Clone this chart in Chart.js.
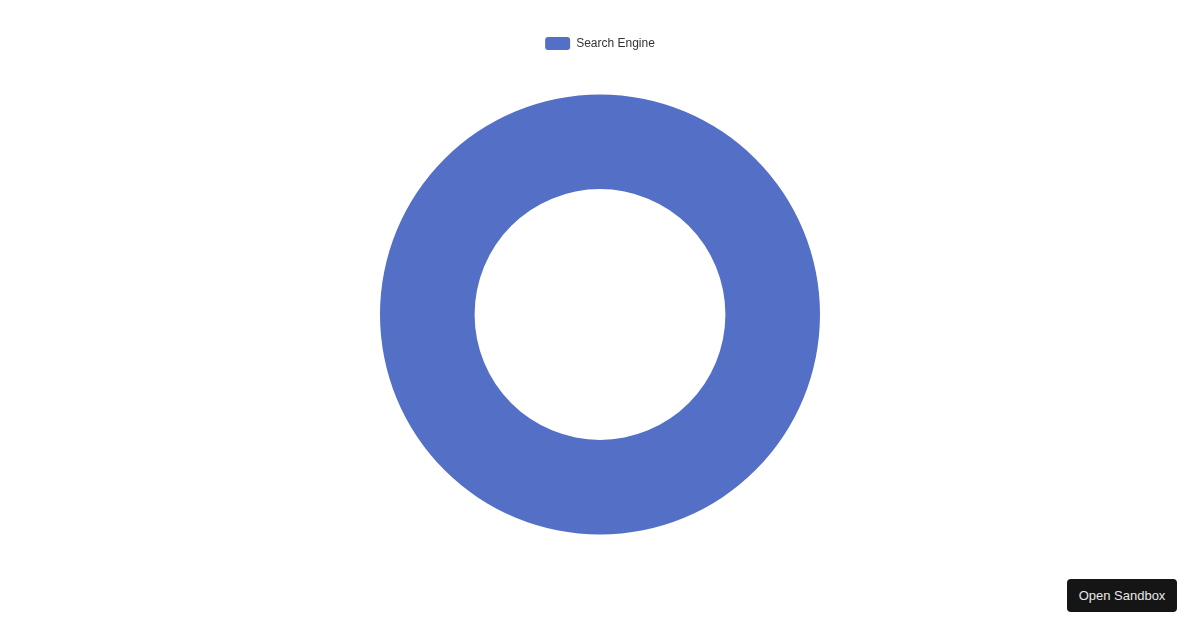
<!DOCTYPE html>
<html>
<head>
<meta charset="utf-8">
<script src="https://cdn.jsdelivr.net/npm/chart.js@4/dist/chart.umd.min.js"></script>
<style>
  html, body { margin: 0; padding: 0; background: #fff; width: 1200px; height: 630px; overflow: hidden; }
  #wrap { position: absolute; left: 0; top: 0; width: 1200px; height: 630px; }
  #sandbox {
    position: absolute; right: 23px; bottom: 18px; width: 110px; height: 33px;
    background: #151515; color: #e8e8e8; border-radius: 4px;
    font-family: "Liberation Sans", Arial, sans-serif; font-size: 13px;
    display: flex; align-items: center; justify-content: center; box-sizing: border-box;
  }
</style>
</head>
<body>
<div id="wrap"><canvas id="c"></canvas></div>
<div id="sandbox">Open Sandbox</div>
<script>
const categories = ["Search Engine"];
const values = [1048];
const colors = ["#5470c6"];

const legendSpacer = {
  id: 'legendSpacer',
  beforeInit(chart) {
    const origFit = chart.legend.fit;
    chart.legend.fit = function () {
      origFit.bind(chart.legend)();
      this.height += 34.5;
    };
  }
};

new Chart(document.getElementById('c'), {
  type: 'doughnut',
  data: {
    labels: categories,
    datasets: [{
      data: values,
      backgroundColor: colors,
      borderWidth: 0,
      hoverOffset: 0
    }]
  },
  options: {
    responsive: true,
    maintainAspectRatio: false,
    animation: false,
    cutout: '57%',
    layout: { padding: { top: 27, bottom: 95.5 } },
    plugins: {
      legend: {
        position: 'top',
        labels: {
          boxWidth: 25,
          boxHeight: 13,
          padding: 10,
          color: '#333',
          font: { family: "'Liberation Sans', Arial, sans-serif", size: 12 },
          generateLabels(chart) {
            const ds = chart.data.datasets[0];
            return chart.data.labels.map((l, i) => ({
              text: l, fillStyle: ds.backgroundColor[i], strokeStyle: ds.backgroundColor[i],
              lineWidth: 0, borderRadius: 3, index: i, hidden: false, fontColor: '#333'
            }));
          }
        }
      },
      tooltip: { enabled: false }
    }
  },
  plugins: [legendSpacer]
});
</script>
</body>
</html>
